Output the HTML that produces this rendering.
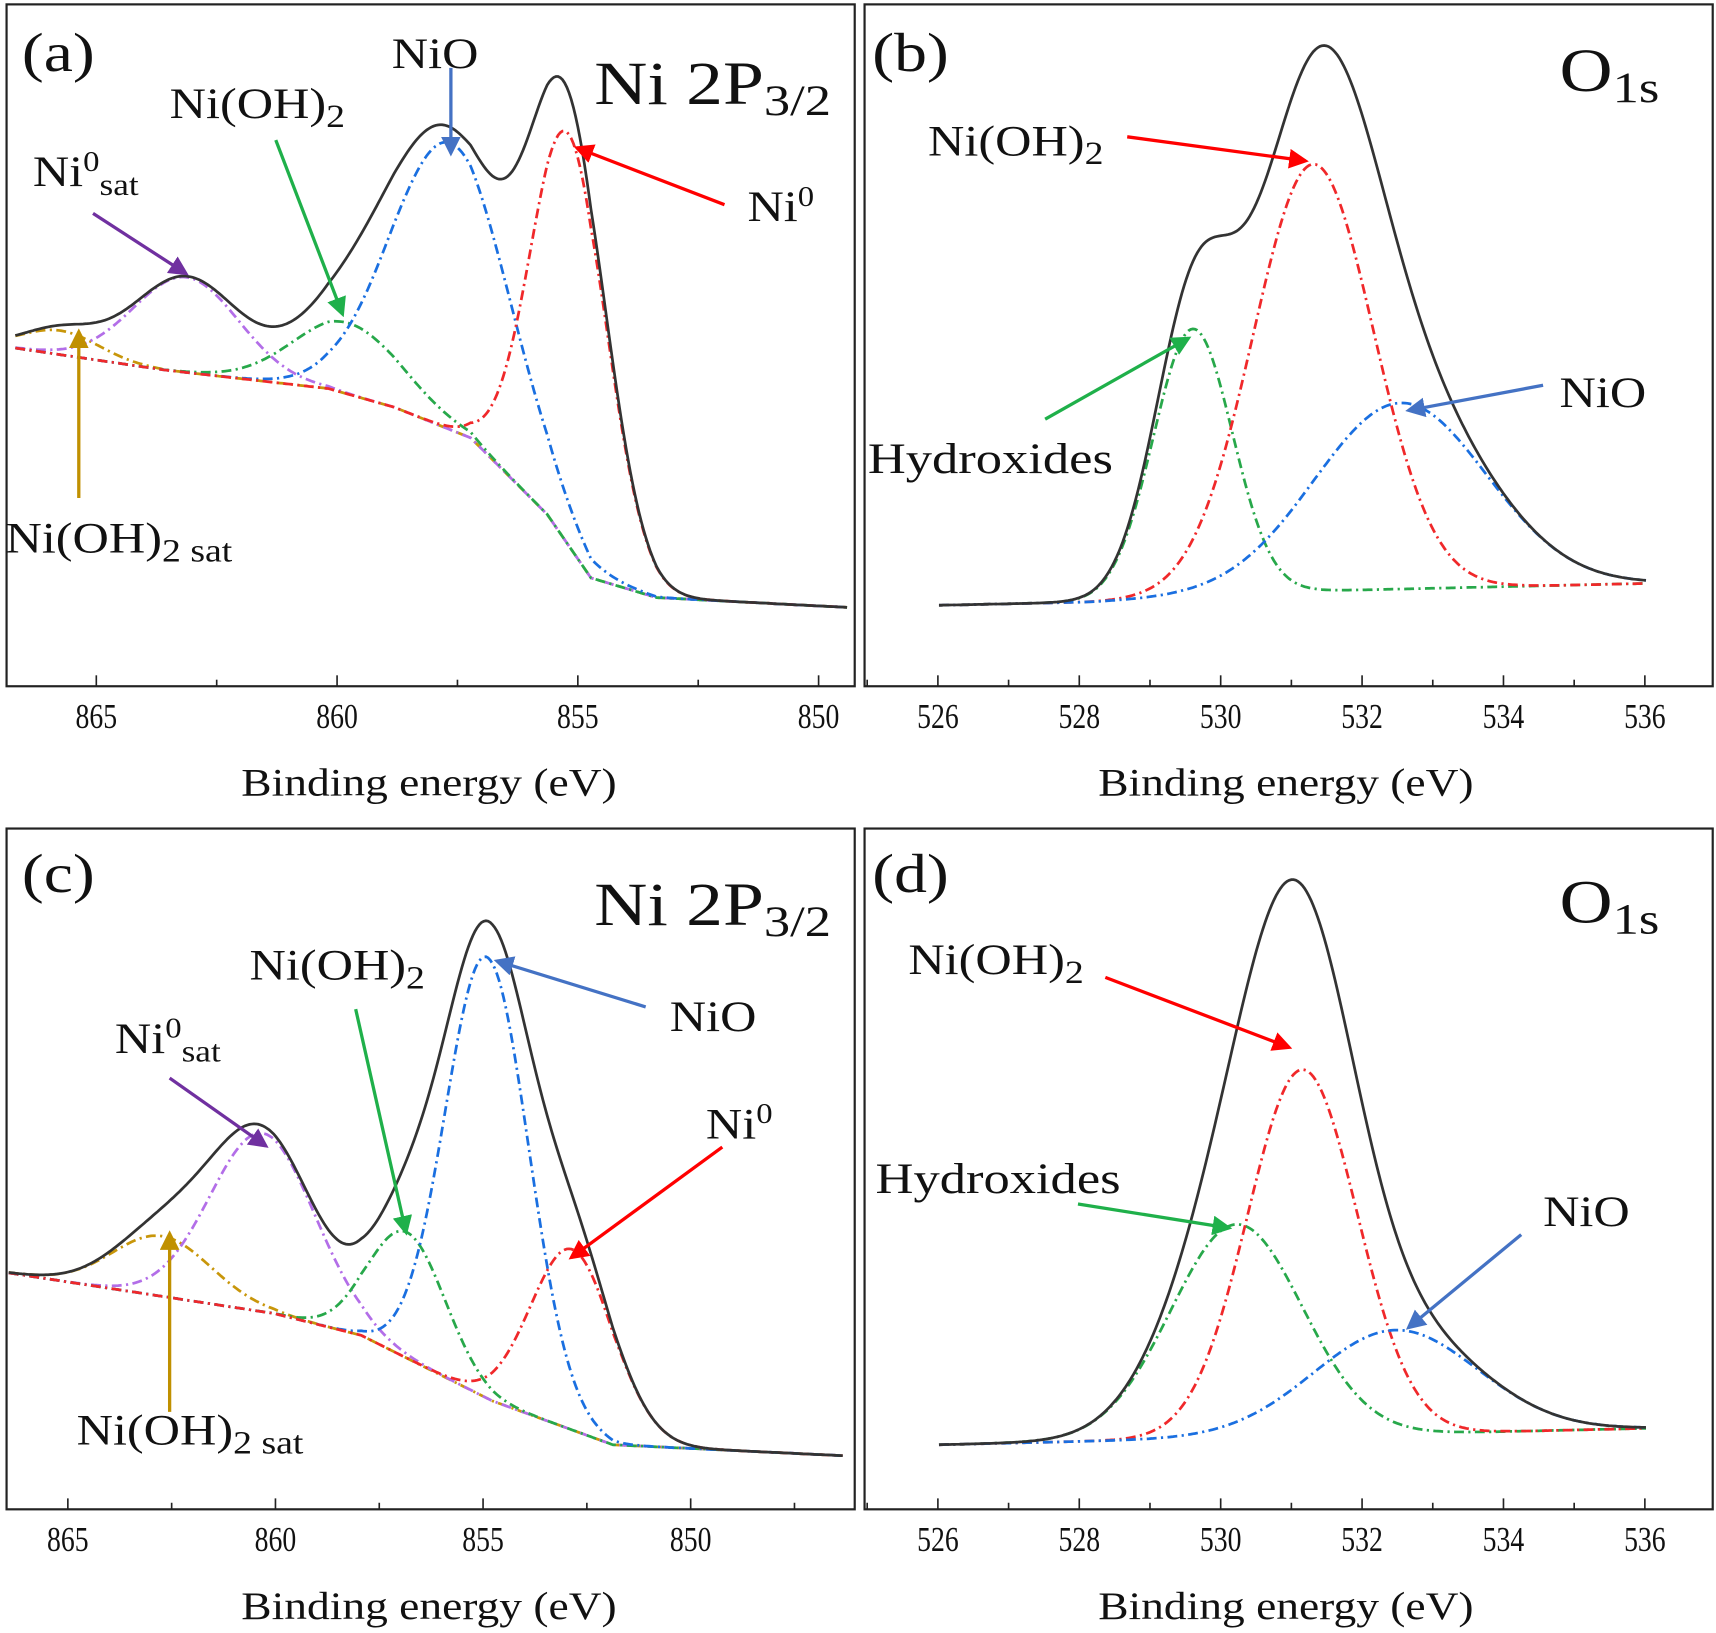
<!DOCTYPE html>
<html><head><meta charset="utf-8"><style>
html,body{margin:0;padding:0;background:#fff;width:1716px;height:1633px;overflow:hidden}
svg{display:block}
text{font-family:"Liberation Serif",serif;fill:#111}
</style></head><body>
<svg id="s" width="1716" height="1633" viewBox="0 0 1568 1492" preserveAspectRatio="none" xmlns="http://www.w3.org/2000/svg">
<defs>
<marker id="mr" markerWidth="6" markerHeight="6" refX="5" refY="3" orient="auto" markerUnits="strokeWidth"><path d="M0,0L6,3L0,6z" fill="#f00"/></marker>
<marker id="mb" markerWidth="6" markerHeight="6" refX="5" refY="3" orient="auto" markerUnits="strokeWidth"><path d="M0,0L6,3L0,6z" fill="#4472c4"/></marker>
<marker id="mg" markerWidth="6" markerHeight="6" refX="5" refY="3" orient="auto" markerUnits="strokeWidth"><path d="M0,0L6,3L0,6z" fill="#1fb04a"/></marker>
<marker id="mp" markerWidth="6" markerHeight="6" refX="5" refY="3" orient="auto" markerUnits="strokeWidth"><path d="M0,0L6,3L0,6z" fill="#7030a0"/></marker>
<marker id="my" markerWidth="6" markerHeight="6" refX="5" refY="3" orient="auto" markerUnits="strokeWidth"><path d="M0,0L6,3L0,6z" fill="#c09000"/></marker>
</defs>
<g fill="none" stroke="#222" stroke-width="2">
<rect x="6" y="4" width="775" height="623"/>
<rect x="790" y="4" width="775" height="623"/>
<rect x="6" y="757" width="775" height="622"/>
<rect x="790" y="757" width="775" height="622"/>
</g>
<g id="t" stroke="#222" stroke-width="1.5"></g>
<g id="g"></g>
<g font-size="32" text-anchor="middle" id="tl"></g>
<g font-size="36" text-anchor="middle">
<text x="392" y="727" textLength="343" lengthAdjust="spacingAndGlyphs">Binding energy (eV)</text><text x="1175" y="727" textLength="343" lengthAdjust="spacingAndGlyphs">Binding energy (eV)</text>
<text x="392" y="1479" textLength="343" lengthAdjust="spacingAndGlyphs">Binding energy (eV)</text><text x="1175" y="1479" textLength="343" lengthAdjust="spacingAndGlyphs">Binding energy (eV)</text>
</g>
<g font-size="50">
<g transform="translate(20,65) scale(1.2,1)"><text>(a)</text></g>
<g transform="translate(797,65) scale(1.2,1)"><text>(b)</text></g>
<g transform="translate(20,815) scale(1.2,1)"><text>(c)</text></g>
<g transform="translate(797,815) scale(1.2,1)"><text>(d)</text></g>
<g transform="translate(543,95) scale(1.2,1)"><text font-size="56">Ni 2P<tspan font-size="40" dy="10">3/2</tspan></text></g>
<g transform="translate(543,845) scale(1.2,1)"><text font-size="56">Ni 2P<tspan font-size="40" dy="10">3/2</tspan></text></g>
<g transform="translate(1425,83) scale(1.2,1)"><text font-size="56">O<tspan font-size="40" dy="10">1s</tspan></text></g>
<g transform="translate(1425,843) scale(1.2,1)"><text font-size="56">O<tspan font-size="40" dy="10">1s</tspan></text></g>
</g>
<g font-size="40">
<g transform="translate(358,62) scale(1.15,1)"><text>NiO</text></g>
<g transform="translate(155,108) scale(1.15,1)"><text>Ni(OH)<tspan font-size="30" dy="8">2</tspan></text></g>
<g transform="translate(30,170) scale(1.15,1)"><text>Ni<tspan font-size="26" dy="-14">0</tspan><tspan font-size="28" dy="22">sat</tspan></text></g>
<g transform="translate(683,202) scale(1.15,1)"><text>Ni<tspan font-size="26" dy="-14">0</tspan></text></g>
<g transform="translate(5,505) scale(1.15,1)"><text>Ni(OH)<tspan font-size="30" dy="8">2 sat</tspan></text></g>
<g transform="translate(848,142) scale(1.15,1)"><text>Ni(OH)<tspan font-size="30" dy="8">2</tspan></text></g>
<g transform="translate(793,432) scale(1.2,1)"><text>Hydroxides</text></g>
<g transform="translate(1425,372) scale(1.15,1)"><text>NiO</text></g>
<g transform="translate(228,895) scale(1.15,1)"><text>Ni(OH)<tspan font-size="30" dy="8">2</tspan></text></g>
<g transform="translate(612,942) scale(1.15,1)"><text>NiO</text></g>
<g transform="translate(105,962) scale(1.15,1)"><text>Ni<tspan font-size="26" dy="-14">0</tspan><tspan font-size="28" dy="22">sat</tspan></text></g>
<g transform="translate(645,1040) scale(1.15,1)"><text>Ni<tspan font-size="26" dy="-14">0</tspan></text></g>
<g transform="translate(70,1320) scale(1.15,1)"><text>Ni(OH)<tspan font-size="30" dy="8">2 sat</tspan></text></g>
<g transform="translate(830,890) scale(1.15,1)"><text>Ni(OH)<tspan font-size="30" dy="8">2</tspan></text></g>
<g transform="translate(800,1090) scale(1.2,1)"><text>Hydroxides</text></g>
<g transform="translate(1410,1120) scale(1.15,1)"><text>NiO</text></g>
</g>
<g stroke-width="3" fill="none">
<line x1="85" y1="195" x2="170" y2="250" stroke="#7030a0" marker-end="url(#mp)"/>
<line x1="252" y1="128" x2="313" y2="287" stroke="#1fb04a" marker-end="url(#mg)"/>
<line x1="412" y1="62" x2="412" y2="140" stroke="#4472c4" marker-end="url(#mb)"/>
<line x1="662" y1="187" x2="527" y2="135" stroke="#f00" marker-end="url(#mr)"/>
<line x1="72" y1="455" x2="72" y2="303" stroke="#c09000" marker-end="url(#my)"/>
<line x1="1030" y1="125" x2="1193" y2="147" stroke="#f00" marker-end="url(#mr)"/>
<line x1="955" y1="383" x2="1086" y2="309" stroke="#1fb04a" marker-end="url(#mg)"/>
<line x1="1410" y1="352" x2="1287" y2="375" stroke="#4472c4" marker-end="url(#mb)"/>
<line x1="155" y1="985" x2="243" y2="1047" stroke="#7030a0" marker-end="url(#mp)"/>
<line x1="325" y1="922" x2="371" y2="1126" stroke="#1fb04a" marker-end="url(#mg)"/>
<line x1="590" y1="920" x2="454" y2="878" stroke="#4472c4" marker-end="url(#mb)"/>
<line x1="660" y1="1048" x2="522" y2="1149" stroke="#f00" marker-end="url(#mr)"/>
<line x1="155" y1="1290" x2="155" y2="1127" stroke="#c09000" marker-end="url(#my)"/>
<line x1="1010" y1="893" x2="1178" y2="957" stroke="#f00" marker-end="url(#mr)"/>
<line x1="985" y1="1100" x2="1123" y2="1122" stroke="#1fb04a" marker-end="url(#mg)"/>
<line x1="1390" y1="1128" x2="1287" y2="1213" stroke="#4472c4" marker-end="url(#mb)"/>
</g>
</svg>
<script>
var NS="http://www.w3.org/2000/svg",G=document.getElementById("g"),T=document.getElementById("t"),TL=document.getElementById("tl");
function el(parent,tag,attrs,txt){var e=document.createElementNS(NS,tag);for(var k in attrs)e.setAttribute(k,attrs[k]);if(txt)e.textContent=txt;parent.appendChild(e);return e;}
function axis(x0,step,labels,yb,xmin,xmax){
 for(var i=-2;i<labels.length*2+2;i++){var x=x0+i*step/2;if(x<=xmin+1||x>=xmax-1)continue;var len=(i%2==0)?10:6;el(T,"line",{x1:x,x2:x,y1:yb,y2:yb-len});}
 labels.forEach(function(l,i){el(TL,"text",{x:x0+i*step,y:yb+38,textLength:38,lengthAdjust:"spacingAndGlyphs"},l);});
}
axis(88,220,["865","860","855","850"],627,6,781);
axis(857,129.2,["526","528","530","532","534","536"],627,790,1565);
axis(62,189.7,["865","860","855","850"],1379,6,781);
axis(857,129.2,["526","528","530","532","534","536"],1379,790,1565);
function interp(pts,x){if(x<=pts[0][0])return pts[0][1];for(var i=1;i<pts.length;i++){if(x<=pts[i][0]){var a=pts[i-1],b=pts[i];return a[1]+(b[1]-a[1])*(x-a[0])/(b[0]-a[0]);}}return pts[pts.length-1][1];}
function path(d,col,w,dash){var a={d:d,fill:"none",stroke:col,"stroke-width":w};if(dash)a["stroke-dasharray"]=dash;el(G,"path",a);}
var C={r:"#f0282a",b:"#1a6fe0",g:"#27a84a",p:"#b36ee8",y:"#c8960a"};
function panel(x0,x1,bg,peaks){
 var tot="";
 peaks.forEach(function(pk){var d="";for(var x=x0;x<=x1;x+=2){var y=interp(bg,x)-pk[2]*Math.exp(-Math.pow(x-pk[1],2)/(2*pk[3]*pk[3]));d+=(d?"L":"M")+x+","+y.toFixed(1);}path(d,C[pk[0]],2.5,"9,4,2,4");});
 for(var x=x0;x<=x1;x+=2){var y=interp(bg,x);peaks.forEach(function(pk){y-=pk[2]*Math.exp(-Math.pow(x-pk[1],2)/(2*pk[3]*pk[3]));});tot+=(tot?"L":"M")+x+","+y.toFixed(1);}
 path(tot,"#333",2.5);
}
panel(14,775,[[14,318],[150,338],[300,355],[360,372],[430,400],[500,470],[540,528],[600,546],[775,555]],
 [["y",55,22,35],["p",170,87,48],["g",318,65,50],["b",412,262,55],["r",520,376,35]]);
panel(8,770,[[8,1163],[250,1200],[330,1220],[450,1280],[560,1320],[770,1330]],
 [["y",148,55,45],["p",240,163,48],["g",372,115,35],["b",445,403,38],["r",523,165,38]]);
panel(858,1505,[[858,553],[1000,550],[1200,540],[1505,533]],
 [["g",1090,245,36],["r",1200,390,55],["b",1280,170,78]]);
panel(858,1505,[[858,1320],[1200,1312],[1505,1305]],
 [["g",1130,195,60],["r",1190,335,50],["b",1275,95,75]]);
</script>
</body></html>
